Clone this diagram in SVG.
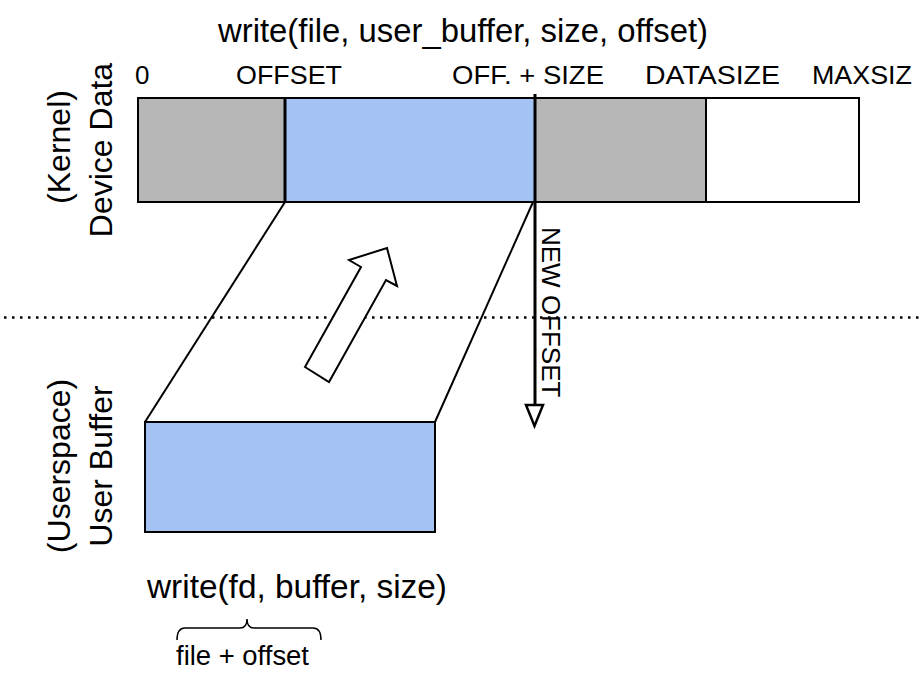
<svg xmlns="http://www.w3.org/2000/svg" width="919" height="676" viewBox="0 0 919 676">
<style>
text{font-family:"Liberation Sans",Arial,sans-serif;fill:#000}
.gray{fill:#b7b7b7;stroke:#000;stroke-width:2}
.blue{fill:#a4c2f4;stroke:#000;stroke-width:2}
.white{fill:#fff;stroke:#000;stroke-width:2}
.ln{fill:none;stroke:#000;stroke-width:2}
.lbl{font-size:26px}
.side{font-size:32px}
</style>
<rect width="919" height="676" fill="#fff"/>
<g id="title"><text x="218" y="42" font-size="32.5" textLength="490" lengthAdjust="spacingAndGlyphs">write(file, user_buffer, size, offset)</text></g>
<g id="scale-labels">
<text class="lbl" x="135" y="84">0</text>
<text class="lbl" x="236" y="84" textLength="106" lengthAdjust="spacingAndGlyphs">OFFSET</text>
<text class="lbl" x="452" y="84" textLength="152" lengthAdjust="spacingAndGlyphs">OFF. + SIZE</text>
<text class="lbl" x="645" y="84" textLength="135" lengthAdjust="spacingAndGlyphs">DATASIZE</text>
<text class="lbl" x="812" y="84" textLength="100" lengthAdjust="spacingAndGlyphs">MAXSIZ</text>
</g>
<g id="side-labels">
<text class="side" text-anchor="middle" transform="translate(70,147) rotate(-90)">(Kernel)</text>
<text class="side" text-anchor="middle" transform="translate(112,150) rotate(-90)">Device Data</text>
<text class="side" text-anchor="middle" transform="translate(70,466) rotate(-90)">(Userspace)</text>
<text class="side" text-anchor="middle" transform="translate(112,466) rotate(-90)">User Buffer</text>
</g>
<g id="device-data">
<rect class="gray" x="138" y="98" width="147" height="104"/>
<rect class="blue" x="285" y="98" width="250" height="104"/>
<rect class="gray" x="535" y="98" width="171" height="104"/>
<rect class="white" x="706" y="98" width="153" height="104"/>
<line x1="285" y1="97" x2="285" y2="203" stroke="#000" stroke-width="3"/>
</g>
<g id="user-buffer">
<rect class="blue" x="145" y="422" width="290" height="110"/>
</g>
<line id="boundary" x1="4" y1="317.5" x2="919" y2="317.5" stroke="#000" stroke-width="2.5" stroke-dasharray="2.5,5.5"/>
<g id="connectors">
<line class="ln" x1="285" y1="202" x2="145" y2="422"/>
<line class="ln" x1="533" y1="202" x2="435" y2="422"/>
<line x1="535" y1="94" x2="535" y2="405" stroke="#000" stroke-width="3"/>
<polygon points="526,405 543,405 534.5,426" fill="#fff" stroke="#000" stroke-width="2.5"/>
<polygon points="305,367 361,267 349,260 387,248 397,286 386,280 329,382" fill="#fff" stroke="#000" stroke-width="2"/>
</g>
<g id="new-offset"><text x="0" y="0" font-size="26" transform="translate(542,227) rotate(90)">NEW OFFSET</text></g>
<g id="call">
<text x="147" y="598" font-size="33" textLength="300" lengthAdjust="spacingAndGlyphs">write(fd, buffer, size)</text>
<path d="M177,640 Q177,628 185,628 L240,628 Q247,628 247,619 Q247,628 254,628 L313,628 Q321,628 321,640" fill="none" stroke="#000" stroke-width="1.5"/>
<text x="176" y="665" font-size="27" textLength="133" lengthAdjust="spacingAndGlyphs">file + offset</text>
</g>
</svg>
